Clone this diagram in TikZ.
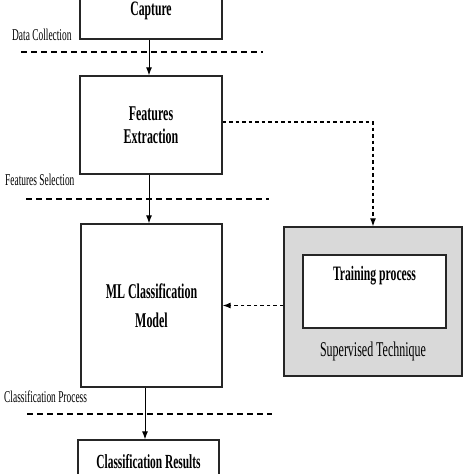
\documentclass[tikz,border=0pt]{standalone}
\usepackage{fontspec}
\setmainfont{Liberation Serif}[FakeStretch=0.57]
\usetikzlibrary{arrows.meta}
\begin{document}
\begin{tikzpicture}[x=1pt,y=-1pt,
 box/.style={draw=black!85, line width=1.3pt, fill=white, align=center, inner sep=0pt, font=\fontsize{21}{28.5}\selectfont\bfseries},
 lbl/.style={font=\fontsize{16.5}{18}\selectfont, inner sep=0pt, anchor=west},
 arr/.style={-{Latex[length=8pt,width=6pt]}, line width=1pt},
 sep/.style={dash pattern=on 6pt off 4pt, line width=1.4pt},
 dots/.style={dash pattern=on 3.5pt off 3pt, line width=1.2pt}]
\useasboundingbox (0,0) rectangle (474,474);
% boxes
\node[box, minimum width=142pt, minimum height=59pt] (cap) at (151,9.5) {};
\node[font=\fontsize{20.5}{24}\selectfont\bfseries, inner sep=0pt] (capt) at (151,11) {Capture};
\node[box, minimum width=142pt, minimum height=98pt] (fe) at (151,125) {Features\\[-5.5pt]Extraction};
\node[box, minimum width=141pt, minimum height=163pt] (ml) at (151.5,305.5) {ML Classification\\Model};
\node[box, minimum width=141pt, minimum height=44pt, font=\fontsize{20}{24}\selectfont\bfseries] (res) at (148.5,462) {Classification Results};
\node[draw=black!85, line width=1.3pt, fill=gray!30, minimum width=178pt, minimum height=149pt, inner sep=0pt] (gb) at (373,301.5) {};
\node[box, minimum width=143pt, minimum height=73pt, label={[yshift=-34pt, font=\fontsize{20.5}{22}\selectfont\bfseries]north:Training process}] (tp) at (374.5,291.5) {};
\node[font=\fontsize{21}{22}\selectfont, inner sep=0pt] (st) at (373,351) {Supervised Technique};
% side labels
\node[lbl] (l1) at (12,35) {Data Collection};
\node[lbl] (l2) at (5,180) {Features Selection};
\node[lbl] (l3) at (4,396.5) {Classification Process};
% separators
\draw[sep] (21,52) -- (263,52);
\draw[sep] (26,199) -- (269,199);
\draw[sep] (27,414) -- (272,414);
% arrows
\draw[arr] ([xshift=-2pt]cap.south) -- ([xshift=-2pt]fe.north);
\draw[arr] ([xshift=-2pt]fe.south) -- ([xshift=-2.5pt]ml.north);
\draw[arr] ([xshift=-6.5pt]ml.south) -- ([xshift=-3.5pt]res.north);
\draw[arr, dots] ([yshift=3pt]fe.east) -| (gb.north);
\draw[arr, dots] (gb.west |- ml.east) -- (ml.east);
\end{tikzpicture}
\end{document}
